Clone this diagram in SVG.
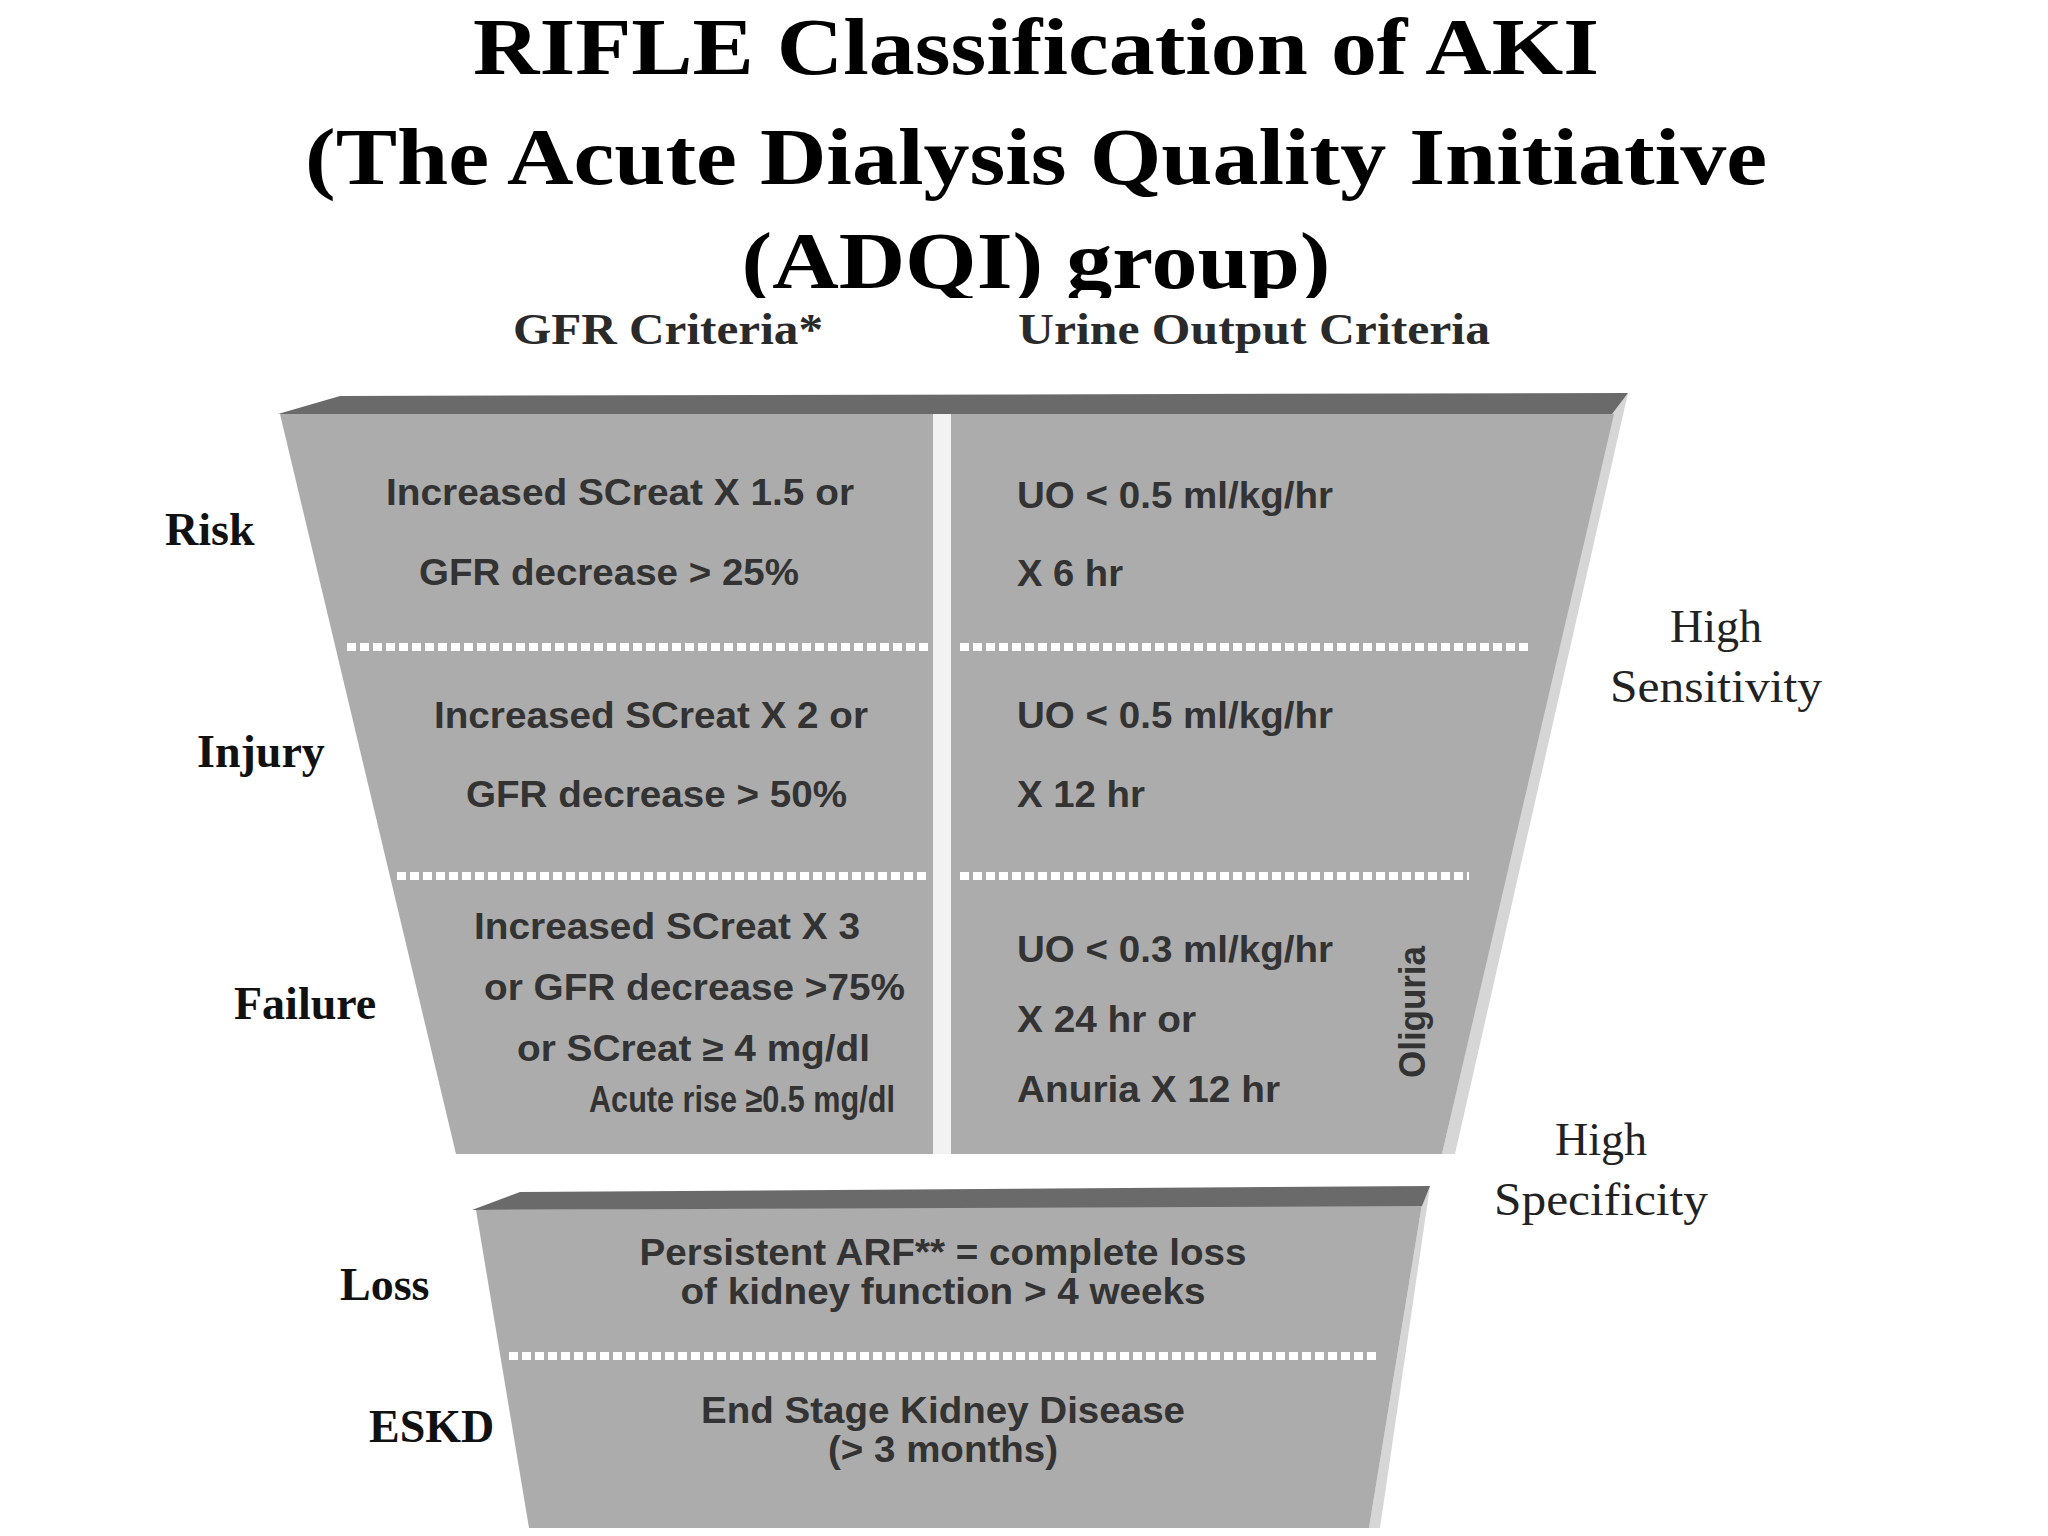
<svg xmlns="http://www.w3.org/2000/svg" width="2048" height="1536" viewBox="0 0 2048 1536">
<style>
.t{font-family:"Liberation Serif",serif;font-weight:bold;fill:#000;text-anchor:middle}
.h{font-family:"Liberation Serif",serif;font-weight:bold;fill:#2a2a2a;font-size:44px;text-anchor:middle}
.l{font-family:"Liberation Serif",serif;fill:#111;font-size:46px;font-weight:bold}
.r{font-family:"Liberation Serif",serif;fill:#222;font-size:46px;text-anchor:middle}
.c{font-family:"Liberation Sans",sans-serif;font-weight:bold;fill:#333;font-size:36px}
.cm{font-family:"Liberation Sans",sans-serif;font-weight:bold;fill:#333;font-size:36px;text-anchor:middle}
.body{fill:#acacac}
.top{fill:#6a6a6a}
.side{fill:#d6d6d6}
.dash{stroke:#fff;stroke-width:8;stroke-dasharray:9 4;fill:none}
</style>
<rect width="2048" height="1536" fill="#fff"/>
<g id="title">
<text class="t" x="1036" y="74" font-size="80" textLength="1126" lengthAdjust="spacingAndGlyphs">RIFLE Classification of AKI</text>
<text class="t" x="1036" y="184" font-size="80" textLength="1462" lengthAdjust="spacingAndGlyphs">(The Acute Dialysis Quality Initiative</text>
<text class="t" x="1036" y="288" font-size="80" textLength="589" lengthAdjust="spacingAndGlyphs">(ADQI) group)</text>
</g>
<rect x="0" y="298" width="2048" height="10" fill="#fff"/>
<g id="headers">
<text class="h" x="668" y="344" textLength="310" lengthAdjust="spacingAndGlyphs">GFR Criteria*</text>
<text class="h" x="1254" y="344" textLength="472" lengthAdjust="spacingAndGlyphs">Urine Output Criteria</text>
</g>
<g id="upper">
<polygon class="side" points="1612,412 1628,393 1455,1154 1442,1154"/>
<polygon class="body" points="280,414 1614,414 1442,1154 456,1154"/>
<polygon class="top" points="278,414 340,396 1628,393 1612,414"/>
<rect x="933" y="414" width="18" height="740" fill="#f2f2f2"/>
<line class="dash" x1="347" y1="647" x2="928" y2="647"/>
<line class="dash" x1="960" y1="647" x2="1528" y2="647"/>
<line class="dash" x1="397" y1="876" x2="928" y2="876"/>
<line class="dash" x1="960" y1="876" x2="1469" y2="876"/>
</g>
<g id="lower">
<polygon class="side" points="1422,1204 1430,1186 1380,1528 1369,1528"/>
<polygon class="body" points="476,1210 1422,1204 1369,1528 529,1528"/>
<polygon class="top" points="472,1210 520,1192 1430,1186 1422,1206"/>
<line class="dash" x1="509" y1="1356" x2="1376" y2="1356"/>
</g>
<g id="labels">
<text class="l" x="165" y="545">Risk</text>
<text class="l" x="197" y="767">Injury</text>
<text class="l" x="234" y="1019">Failure</text>
<text class="l" x="340" y="1300">Loss</text>
<text class="l" x="369" y="1442">ESKD</text>
<text class="r" x="1716" y="642">High</text>
<text class="r" x="1716" y="702" textLength="212" lengthAdjust="spacingAndGlyphs">Sensitivity</text>
<text class="r" x="1601" y="1155">High</text>
<text class="r" x="1601" y="1215" textLength="214" lengthAdjust="spacingAndGlyphs">Specificity</text>
</g>
<g id="risk">
<text class="c" x="386" y="505" textLength="468" lengthAdjust="spacingAndGlyphs">Increased SCreat X 1.5 or</text>
<text class="c" x="419" y="585" textLength="380" lengthAdjust="spacingAndGlyphs">GFR decrease &gt; 25%</text>
<text class="c" x="1017" y="508" textLength="316" lengthAdjust="spacingAndGlyphs">UO &lt; 0.5 ml/kg/hr</text>
<text class="c" x="1017" y="586" textLength="106" lengthAdjust="spacingAndGlyphs">X 6 hr</text>
</g>
<g id="injury">
<text class="c" x="434" y="728" textLength="434" lengthAdjust="spacingAndGlyphs">Increased SCreat X 2 or</text>
<text class="c" x="466" y="807" textLength="381" lengthAdjust="spacingAndGlyphs">GFR decrease &gt; 50%</text>
<text class="c" x="1017" y="728" textLength="316" lengthAdjust="spacingAndGlyphs">UO &lt; 0.5 ml/kg/hr</text>
<text class="c" x="1017" y="807" textLength="128" lengthAdjust="spacingAndGlyphs">X 12 hr</text>
</g>
<g id="failure">
<text class="c" x="474" y="939" textLength="386" lengthAdjust="spacingAndGlyphs">Increased SCreat X 3</text>
<text class="c" x="484" y="1000" textLength="421" lengthAdjust="spacingAndGlyphs">or GFR decrease &gt;75%</text>
<text class="c" x="517" y="1061" textLength="353" lengthAdjust="spacingAndGlyphs">or SCreat ≥ 4 mg/dl</text>
<text class="c" x="589" y="1112" font-size="26" textLength="306" lengthAdjust="spacingAndGlyphs">Acute rise ≥0.5 mg/dl</text>
<text class="c" x="1017" y="962" textLength="316" lengthAdjust="spacingAndGlyphs">UO &lt; 0.3 ml/kg/hr</text>
<text class="c" x="1017" y="1032" textLength="179" lengthAdjust="spacingAndGlyphs">X 24 hr or</text>
<text class="c" x="1017" y="1102" textLength="263" lengthAdjust="spacingAndGlyphs">Anuria X 12 hr</text>
<text class="cm" transform="translate(1425,1012) rotate(-90)" textLength="132" lengthAdjust="spacingAndGlyphs">Oliguria</text>
</g>
<g id="loss">
<text class="cm" x="943" y="1265" font-size="33" textLength="607" lengthAdjust="spacingAndGlyphs">Persistent ARF** = complete loss</text>
<text class="cm" x="943" y="1304" font-size="33" textLength="525" lengthAdjust="spacingAndGlyphs">of kidney function &gt; 4 weeks</text>
</g>
<g id="eskd">
<text class="cm" x="943" y="1423" font-size="33" textLength="484" lengthAdjust="spacingAndGlyphs">End Stage Kidney Disease</text>
<text class="cm" x="943" y="1462" font-size="33" textLength="230" lengthAdjust="spacingAndGlyphs">(&gt; 3 months)</text>
</g>
</svg>
